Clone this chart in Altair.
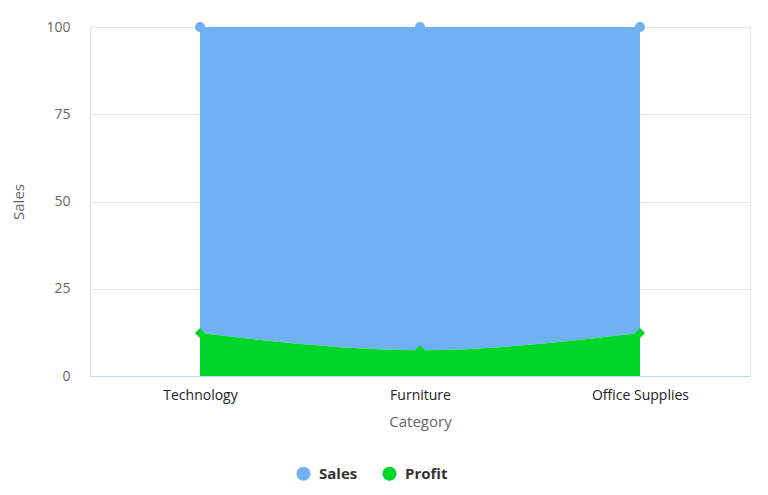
import altair as alt
import pandas as pd

categories = ["Technology", "Furniture", "Office Supplies"]
profit_pct = [12.3, 7.4, 12.3]
sales_pct = [87.7, 92.6, 87.7]
series = ["Sales", "Profit"]
colors = ["#6fb1f2", "#00d62a"]

rows = []
for c, s, p in zip(categories, sales_pct, profit_pct):
    rows.append({"Category": c, "Series": "Sales", "value": s, "ord": 1})
    rows.append({"Category": c, "Series": "Profit", "value": p, "ord": 0})
df = pd.DataFrame(rows)

FONT = "Open Sans"

x = alt.X("Category:N", sort=categories, scale=alt.Scale(type="point", padding=0.5),
          axis=alt.Axis(title="Category", labelAngle=0, labelFontSize=14, labelColor="#222",
                        titleFontSize=15, titleColor="#666", titleFontWeight="normal",
                        domainColor="#c8d6e8", ticks=False, labelPadding=12, titlePadding=12,
                        labelFont=FONT, titleFont=FONT))
y = alt.Y("value:Q", stack="zero", scale=alt.Scale(domain=[0, 100], nice=False),
          axis=alt.Axis(title="Sales", values=[0, 25, 50, 75, 100], labelFontSize=14,
                        labelColor="#666", titleFontSize=15, titleColor="#666",
                        titleFontWeight="normal", domain=False, ticks=False, gridColor="#e6e6e6",
                        labelPadding=20, titlePadding=19, labelFont=FONT, titleFont=FONT))
cscale = alt.Scale(domain=series, range=colors)
color = alt.Color("Series:N", scale=cscale,
                  legend=alt.Legend(title=None, orient="none", legendX=206, legendY=439,
                                    direction="horizontal",
                                    symbolType="circle", symbolSize=200, labelFontSize=15,
                                    labelFontWeight="bold", labelColor="#333", labelFont=FONT,
                                    columnPadding=24, symbolStrokeWidth=0, labelOffset=8))
order = alt.Order("ord:Q")

base = alt.Chart(df).transform_stack(
    stack="value", groupby=["Category"], as_=["v0", "v1"],
    sort=[alt.SortField("ord", order="ascending")])

area = alt.Chart(df).mark_area(interpolate="monotone", opacity=1).encode(
    x=x, y=y, color=color, order=order)
pts_sales = base.transform_filter(alt.datum.Series == "Sales").mark_point(
    filled=True, size=100, opacity=1, shape="circle", color=colors[0]).encode(
    x=x, y=alt.Y("v1:Q"))
pts_profit = base.transform_filter(alt.datum.Series == "Profit").mark_point(
    filled=True, size=100, opacity=1, shape="diamond", color=colors[1]).encode(
    x=x, y=alt.Y("v1:Q"))

chart = alt.layer(area, pts_sales, pts_profit).properties(
    width=660, height=349,
    autosize=alt.AutoSizeParams(type="none"),
    padding={"left": 82, "top": 19, "right": 10, "bottom": 111},
).configure_view(stroke="#e6e6e6")

chart.save("out.html", embed_options={"renderer": "svg", "actions": False})
